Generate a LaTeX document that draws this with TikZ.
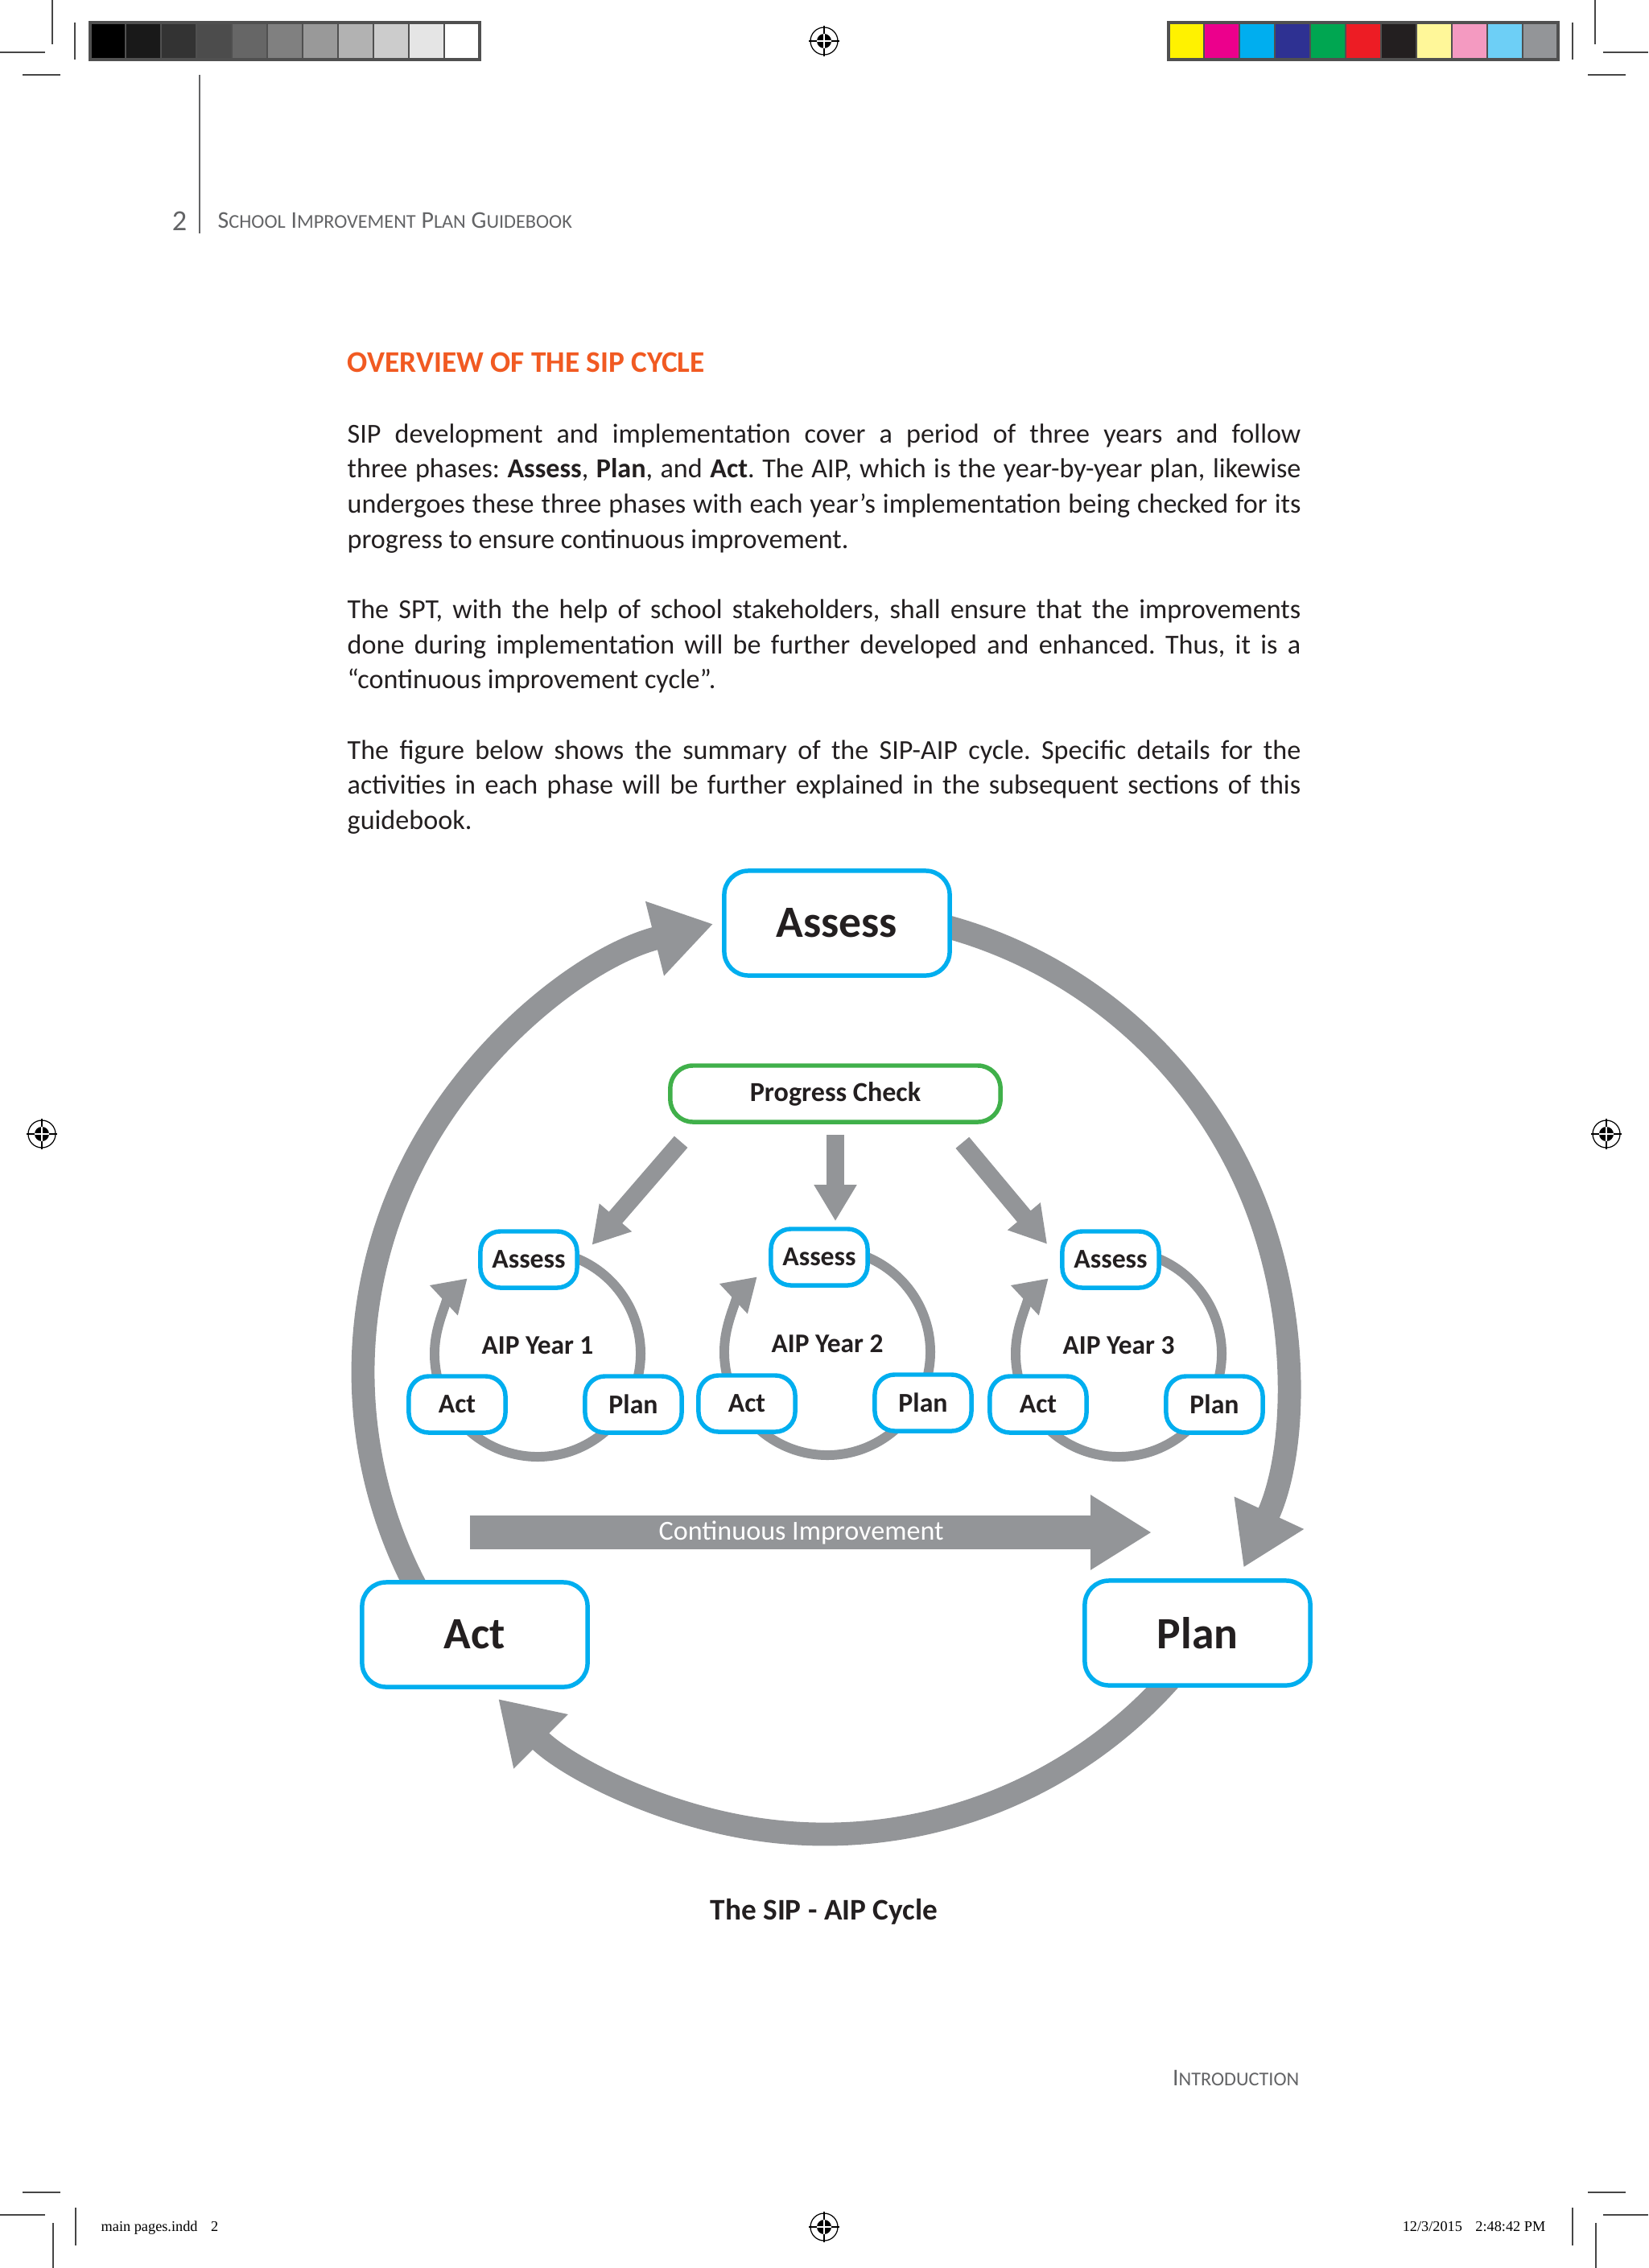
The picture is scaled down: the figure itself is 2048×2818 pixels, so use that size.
\documentclass[tikz,border=0pt]{standalone}
\usepackage{fontspec}
\setmainfont{Carlito}
\newfontfamily\slugfont{Liberation Serif}
\usepackage{tikz}
\usetikzlibrary{
    arrows.meta,
    positioning,
    calc
}
\usepackage{xcolor}
\definecolor{ink}{RGB}{35,31,32}
\definecolor{sipcyan}{RGB}{0,174,239}
\definecolor{sipgreen}{RGB}{64,176,74}
\definecolor{ringgray}{RGB}{147,149,152}
\definecolor{siporange}{RGB}{241,90,34}
\definecolor{headgray}{RGB}{99,100,102}
\definecolor{cropgray}{RGB}{70,70,70}
\definecolor{framegray}{RGB}{80,80,80}
\definecolor{cbyellow}{RGB}{255,242,0}
\definecolor{cbmagenta}{RGB}{236,0,140}
\definecolor{cbcyan}{RGB}{0,174,239}
\definecolor{cbblue}{RGB}{46,49,146}
\definecolor{cbgreen}{RGB}{0,166,81}
\definecolor{cbred}{RGB}{237,28,36}
\definecolor{cbblack}{RGB}{35,31,32}
\definecolor{cblightyellow}{RGB}{255,247,153}
\definecolor{cbpink}{RGB}{244,154,193}
\definecolor{cblightcyan}{RGB}{109,207,246}
\definecolor{cbgray}{RGB}{147,149,152}
\frenchspacing
\newcommand{\fakesc}[2]{#1{\fontsize{6.9pt}{7pt}\selectfont #2}}
\tikzset{
    % Phase boxes
    phasebox/.style={
        rectangle,
        draw=sipcyan,
        line width=1.56pt,
        fill=white,
        rounded corners=8.5pt,
        minimum width=2.80cm,
        minimum height=1.30cm,
        inner sep=0pt,
        align=center,
        text=ink,
        font=\fontsize{15.8pt}{18pt}\selectfont\bfseries
    },
    yearbox/.style={
        rectangle,
        draw=sipcyan,
        line width=1.56pt,
        fill=white,
        rounded corners=7pt,
        minimum width=1.20cm,
        minimum height=0.70cm,
        inner sep=0pt,
        align=center,
        text=ink,
        font=\fontsize{9.6pt}{11pt}\selectfont\bfseries
    },
    checkbox/.style={
        rectangle,
        draw=sipgreen,
        line width=1.56pt,
        fill=white,
        rounded corners=8pt,
        minimum width=4.10cm,
        minimum height=0.70cm,
        inner sep=0pt,
        align=center,
        text=ink,
        font=\fontsize{9.7pt}{11pt}\selectfont\bfseries
    },
    yearlabel/.style={
        anchor=base,
        inner sep=0pt,
        text=ink,
        font=\fontsize{9.5pt}{11pt}\selectfont\bfseries
    },
    % Arrows
    bigring/.style={
        -{Triangle[length=21.3pt,width=25.6pt]},
        line width=8.2pt,
        draw=ringgray
    },
    smallring/.style={
        -{Triangle[length=11.4pt,width=13.7pt]},
        line width=3.4pt,
        draw=ringgray
    },
    checkarrow/.style={
        -{Triangle[length=12.8pt,width=14.2pt]},
        line width=6.2pt,
        draw=ringgray
    },
    ciarrow/.style={
        -{Triangle[length=21.6pt,width=25pt]},
        line width=11.9pt,
        draw=ringgray
    },
    citext/.style={
        inner sep=0pt,
        text=white,
        font=\fontsize{9.7pt}{11pt}\selectfont
    },
    % Page text
    sectiontitle/.style={
        anchor=base west,
        inner sep=0pt,
        text=siporange,
        font=\fontsize{10.6pt}{12pt}\selectfont\bfseries
    },
    bodytext/.style={
        anchor=base west,
        inner sep=0pt,
        text width=11.84cm,
        align=justify,
        text=ink,
        font=\fontsize{9.7pt}{12.43pt}\selectfont
    },
    captiontext/.style={
        anchor=base,
        inner sep=0pt,
        text=ink,
        font=\fontsize{10.6pt}{12pt}\selectfont\bfseries
    },
    runninghead/.style={
        inner sep=0pt,
        text=headgray,
        font=\fontsize{8.5pt}{9pt}\selectfont
    },
    slug/.style={
        inner sep=0pt,
        text=black,
        font=\slugfont\fontsize{5.2pt}{6pt}\selectfont
    },
    % Printer marks
    cropline/.style={
        line width=0.4pt,
        draw=cropgray
    },
    regline/.style={
        line width=0.35pt,
        draw=black
    },
    swatch/.style={
        line width=0.5pt,
        draw=framegray
    },
    swatchframe/.style={
        line width=0.9pt,
        draw=framegray
    }
}

\begin{document}
\begin{tikzpicture}[x=0.01cm, y=-0.01cm]

    % Page
    \fill[white] (0,0) rectangle (2048,2818);
    \useasboundingbox (0,0) rectangle (2048,2818);

    % Crop marks
    \draw[cropline] (65,0) -- (65,55);
    \draw[cropline] (0,65) -- (56,65);
    \draw[cropline] (28,93) -- (75,93);
    \draw[cropline] (93,28) -- (93,74);
    \draw[cropline] (1982,0) -- (1982,55);
    \draw[cropline] (1992,65) -- (2048,65);
    \draw[cropline] (1973,93) -- (2020,93);
    \draw[cropline] (1954,28) -- (1954,74);
    \draw[cropline] (28,2724) -- (75,2724);
    \draw[cropline] (0,2752) -- (56,2752);
    \draw[cropline] (94,2743) -- (94,2790);
    \draw[cropline] (66,2762) -- (66,2818);
    \draw[cropline] (1973,2724) -- (2020,2724);
    \draw[cropline] (1992,2752) -- (2048,2752);
    \draw[cropline] (1954,2743) -- (1954,2790);
    \draw[cropline] (1983,2762) -- (1983,2818);

    % Tint bar and colour bar
    \foreach \tint [count=\i from 0] in {100,90,80,70,60,50,40,30,20,10,0}{
        \filldraw[swatch, fill=black!\tint] (112+44*\i,28) rectangle ++(44,46);
    }
    \draw[swatchframe] (112,28) rectangle (596,74);
    \foreach \swcol [count=\i from 0] in {cbyellow,cbmagenta,cbcyan,cbblue,cbgreen,cbred,cbblack,cblightyellow,cbpink,cblightcyan,cbgray}{
        \filldraw[swatch, fill=\swcol] (1452+44*\i,28) rectangle ++(44,46);
    }
    \draw[swatchframe] (1452,28) rectangle (1936,74);

    % Registration marks
    \foreach \spot in {(1024,51),(52,1409),(1996,1409),(1024,2767)}{
        \draw[regline] \spot circle[radius=17];
        \fill[black] \spot circle[radius=9];
        \draw[regline] \spot ++(-19,0) -- ++(38,0);
        \draw[regline] \spot ++(0,-19) -- ++(0,38);
        \draw[regline, draw=white] \spot ++(-9,0) -- ++(18,0);
        \draw[regline, draw=white] \spot ++(0,-9) -- ++(0,18);
    }

    % Running head
    \node[anchor=base east, inner sep=0pt, text=headgray, font=\fontsize{10.3pt}{12pt}\selectfont] (pagenum) at (233,287) {2};
    \draw[cropline, draw=headgray] (248,93) -- (248,290);
    \node[runninghead, anchor=base west] (booktitle) at (270,283) {\fakesc{S}{CHOOL} \fakesc{I}{MPROVEMENT} \fakesc{P}{LAN} \fakesc{G}{UIDEBOOK}};

    % Section text
    \node[sectiontitle] (overview) at (431,462) {OVERVIEW OF THE SIP CYCLE};
    \node[bodytext] (para1) at (431,550) {\hyphenpenalty=10000\exhyphenpenalty=10000
        SIP development and implementation cover a period of three years and follow\linebreak
        three phases: \textbf{Assess}, \textbf{Plan}, and \textbf{Act}. The AIP, which is the year-by-year plan, likewise\linebreak
        undergoes these three phases with each year’s implementation being checked for its\linebreak
        progress to ensure continuous improvement.};
    \node[bodytext] (para2) at (431,768.5) {\hyphenpenalty=10000\exhyphenpenalty=10000
        The SPT, with the help of school stakeholders, shall ensure that the improvements\linebreak
        done during implementation will be further developed and enhanced. Thus, it is a\linebreak
        “continuous improvement cycle”.};
    \node[bodytext] (para3) at (431,943) {\hyphenpenalty=10000\exhyphenpenalty=10000
        The figure below shows the summary of the SIP-AIP cycle. Specific details for the\linebreak
        activities in each phase will be further explained in the subsequent sections of this\linebreak
        guidebook.};

    % Outer SIP cycle
    \coordinate (hub) at (1025,1705);
    \draw[bigring] ($(hub)+(-210:574)$) arc[start angle=-210, end angle=-104, radius=574];
    \draw[bigring] ($(hub)+(-80:574)$) arc[start angle=-80, end angle=25, radius=574];
    \draw[bigring] ($(hub)+(40:574)$) arc[start angle=40, end angle=135, radius=574];

    % Inner AIP cycles
    \coordinate (yr1) at (668,1682);
    \coordinate (yr2) at (1028,1680);
    \coordinate (yr3) at (1390,1682);
    \draw[smallring] ($(yr1)+(-80:128)$) arc[start angle=-80, end angle=227, radius=128];
    \draw[smallring] ($(yr2)+(-80:128)$) arc[start angle=-80, end angle=227, radius=128];
    \draw[smallring] ($(yr3)+(-80:128)$) arc[start angle=-80, end angle=227, radius=128];

    % SIP phases
    \node[phasebox] (assess) at (1040,1147) {Assess};
    \node[phasebox] (plan) at (1488,2029) {Plan};
    \node[phasebox] (act) at (590,2031) {Act};

    % Progress check
    \node[checkbox] (progress) at (1038,1359) {Progress Check};

    % AIP Year 1
    \node[yearbox] (assess1) at (657,1565) {Assess};
    \node[yearbox] (act1) at (568,1745) {Act};
    \node[yearbox] (plan1) at (787,1745) {Plan};
    \node[yearlabel] (year1) at (668,1682) {AIP Year 1};

    % AIP Year 2
    \node[yearbox] (assess2) at (1018,1562) {Assess};
    \node[yearbox] (act2) at (928,1744) {Act};
    \node[yearbox] (plan2) at (1147,1743) {Plan};
    \node[yearlabel] (year2) at (1028,1680) {AIP Year 2};

    % AIP Year 3
    \node[yearbox] (assess3) at (1380,1565) {Assess};
    \node[yearbox] (act3) at (1290,1745) {Act};
    \node[yearbox] (plan3) at (1509,1745) {Plan};
    \node[yearlabel] (year3) at (1390,1682) {AIP Year 3};

    % Arrows from progress check
    \draw[checkarrow, shorten >=0.24cm] ([shift={(16,22)}]progress.south west) -- (assess1.east);
    \draw[checkarrow, shorten >=0.07cm] ([shift={(0,13)}]progress.south) -- (progress.south |- assess2.north);
    \draw[checkarrow, shorten >=0.25cm] ([shift={(-50,23)}]progress.south east) -- (assess3.west);

    % Continuous improvement
    \coordinate (cistart) at (584,1904);
    \coordinate (ciend) at (1431,1904);
    \draw[ciarrow] (cistart) -- (ciend) node[citext, pos=0.486] (citag) {Continuous Improvement};

    % Caption
    \node[captiontext] (figcaption) at (1024,2385) {The SIP - AIP Cycle};

    % Footer
    \node[runninghead, anchor=base east] (chapter) at (1615,2591) {\fakesc{I}{NTRODUCTION}};
    \node[slug, anchor=base west] (slugfile) at (125,2772) {main pages.indd\hspace{0.9em}2};
    \node[slug, anchor=base east] (slugdate) at (1921,2772) {12/3/2015\hspace{0.9em}2:48:42 PM};

\end{tikzpicture}
\end{document}
